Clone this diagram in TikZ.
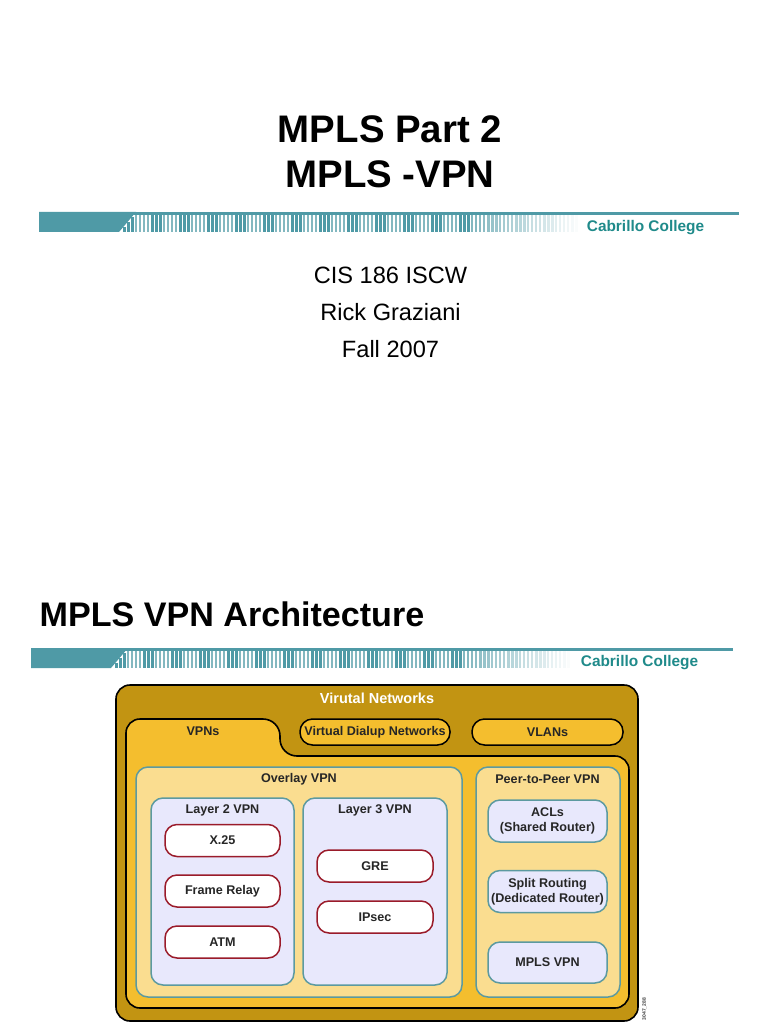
\documentclass[tikz,border=0pt]{standalone}
\usepackage{fontspec}
\setmainfont{Liberation Sans}
\usetikzlibrary{calc,positioning}

\definecolor{bandteal}{HTML}{4F9AA6}
\definecolor{collegeteal}{HTML}{1F8A8A}
\definecolor{outergold}{HTML}{C29412}
\definecolor{panelgold}{HTML}{F4BE2E}
\definecolor{palegold}{HTML}{FADD90}
\definecolor{palelilac}{HTML}{E8E8FC}
\definecolor{boxteal}{HTML}{5C9AA0}
\definecolor{boxred}{HTML}{9A1B2A}

\tikzset{
    techbox/.style={draw=boxred, line width=1.5pt, fill=white, rounded corners=12pt, font=\bfseries\fontsize{12.6}{14}\selectfont, text=black!85},
    lilacbox/.style={draw=boxteal, line width=1.5pt, fill=palelilac, rounded corners=12pt, font=\bfseries\fontsize{12.6}{15}\selectfont, align=center, text=black!85},
    goldbox/.style={draw=boxteal, line width=1.5pt, fill=palegold, rounded corners=12pt},
    pillbox/.style={draw=black, line width=1.5pt, fill=panelgold, rounded corners=12.5pt, font=\bfseries\fontsize{12.6}{14}\selectfont, text=black!85},
    boxtitle/.style={font=\bfseries\fontsize{12.6}{14}\selectfont, text=black!85},
    slidetitle/.style={font=\bfseries\fontsize{38.4}{45}\selectfont, align=center},
    slidetext/.style={font=\fontsize{23.6}{37}\selectfont, align=center}
}

% the banner of a slide: left end, top, right end
\newcommand{\slideband}[3]{
    \fill[bandteal] (#1,#2) rectangle (#3,#2+3);
    \fill[bandteal] (#1,#2) -- (#1+97,#2) -- (#1+80,#2+20) -- (#1,#2+20) -- cycle;
    \foreach \i in {0,...,113} {
        \pgfmathsetmacro{\sx}{#1+84+4*\i}
        \pgfmathsetmacro{\wd}{mod(\i,7)<3 ? 3 : 2.2}
        \pgfmathsetmacro{\op}{\i<88 ? (mod(\i,7)<3 ? 1 : 0.7) : 0.7*(114-\i)/26}
        \pgfmathsetmacro{\sy}{\i<3 ? 20-5*\i-5 : 3}
        \fill[bandteal, opacity=\op] (\sx,#2+\sy) rectangle (\sx+\wd,#2+20);
    }
}

\begin{document}
\begin{tikzpicture}[x=1pt, y=-1pt]

    \useasboundingbox[fill=white] (0,0) rectangle (768,1024);

    % upper slide
    \node[slidetitle] (title) at (390,151.5) {MPLS Part 2\\MPLS -VPN};
    \slideband{39}{212}{739}
    \node[font=\bfseries\fontsize{15.4}{17}\selectfont, text=collegeteal] (college) at (645.5,228) {Cabrillo College};
    \node[slidetext] (course) at (390.5,312) {CIS 186 ISCW\\Rick Graziani\\Fall 2007};

    % lower slide
    \node[font=\bfseries\fontsize{34.1}{40}\selectfont] (arch) at (232,614) {MPLS VPN Architecture};
    \slideband{31}{648}{733}
    \node[font=\bfseries\fontsize{15.4}{17}\selectfont, text=collegeteal] (college2) at (639.5,663) {Cabrillo College};

    % outer box and the tab with its panel
    \draw[line width=1.6pt, fill=outergold, rounded corners=14pt] (116,685) rectangle (638,1021);
    \draw[line width=1.6pt, fill=panelgold, rounded corners=14pt]
        (126,880) -- (126,719) [rounded corners=17pt] -- (280,719) -- (280,756)
        [rounded corners=14pt] -- (629,756) -- (629,1008) -- (126,1008) -- cycle;

    \node[font=\bfseries\fontsize{14.5}{16}\selectfont, text=white] (virtual) at (377,698) {Virutal Networks};
    \node[boxtitle] (vpns) at (203,731) {VPNs};
    \node[pillbox, minimum width=150pt, minimum height=26pt, inner sep=0pt] (dialup) at (375,732) {Virtual Dialup Networks};
    \node[pillbox, minimum width=151pt, minimum height=26pt, inner sep=0pt] (vlans) at (547.5,732) {VLANs};

    % overlay side
    \draw[goldbox] (136,767) rectangle (462,997);
    \node[boxtitle] (overlay) at (299,779) {Overlay VPN};
    \draw[lilacbox] (151,798) rectangle (294,985);
    \node[boxtitle] (layertwo) at (222.5,810) {Layer 2 VPN};
    \draw[lilacbox] (303,798) rectangle (447,985);
    \node[boxtitle] (layerthree) at (375,810) {Layer 3 VPN};

    \foreach \nm/\yc/\txt in {xtf/840.5/X.25, frame/891/Frame Relay, atm/942/ATM}
        \node[techbox, minimum width=115pt, minimum height=32pt, inner sep=0pt] (\nm) at (222.5,\yc) {\txt};
    \foreach \nm/\yc/\txt in {gre/866/GRE, ipsec/917/IPsec}
        \node[techbox, minimum width=116pt, minimum height=32pt, inner sep=0pt] (\nm) at (375,\yc) {\txt};

    % peer side
    \draw[goldbox] (476,767) rectangle (620,997);
    \node[boxtitle] (peer) at (547.5,779) {Peer-to-Peer VPN};
    \node[lilacbox, minimum width=119pt, minimum height=42pt, inner sep=0pt] (acls) at (547.5,821) {ACLs\\(Shared Router)};
    \node[lilacbox, minimum width=119pt, minimum height=42pt, inner sep=0pt] (split) at (547.5,891.5) {Split Routing\\(Dedicated Router)};
    \node[lilacbox, minimum width=119pt, minimum height=41pt, inner sep=0pt] (mplsvpn) at (547.5,962.5) {MPLS VPN};

    \node[rotate=90, font=\bfseries\fontsize{5}{5}\selectfont, text=black!75] (tag) at (644.5,1009) {3047\_288};

\end{tikzpicture}
\end{document}
